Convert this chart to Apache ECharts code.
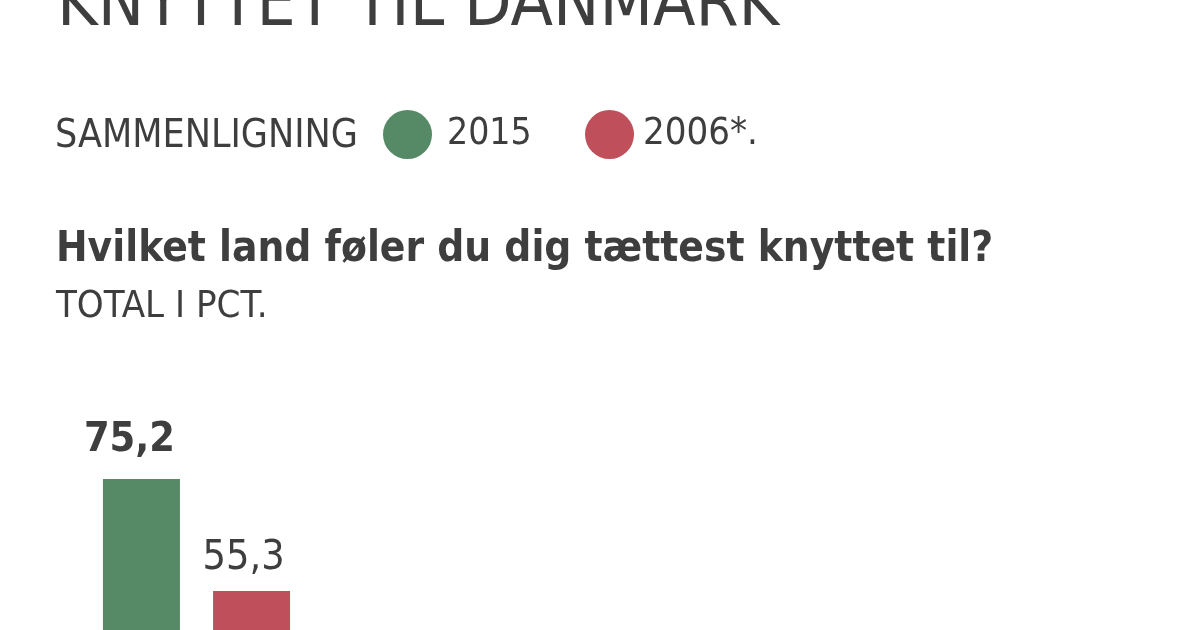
<!DOCTYPE html>
<html>
<head>
<meta charset="utf-8">
<style>
  html, body { margin: 0; padding: 0; background: #ffffff; }
  #chart { width: 1200px; height: 630px; }
</style>
<script src="https://cdn.jsdelivr.net/npm/echarts@6/dist/echarts.min.js"></script>
</head>
<body>
<div id="chart"></div>
<script>
const categories = ['Danmark'];
const series2015 = [75.2];
const series2006 = [55.3];
const seriesNames = ['2015', '2006*.'];
const titleText = 'KNYTTET TIL DANMARK';
const legendLead = 'SAMMENLIGNING';
const question = 'Hvilket land føler du dig tættest knyttet til?';
const unitText = 'TOTAL I PCT.';

const FONT = '"DejaVu Sans Condensed", "Liberation Sans Narrow", sans-serif';
const TXT = '#3e3e3e';
const GREEN = '#568a66';
const RED = '#bf4f5b';

const chart = echarts.init(document.getElementById('chart'));
const fmt = p => String(p.value).replace('.', ',');

chart.setOption({
  backgroundColor: '#ffffff',
  animation: false,
  title: [
    { text: titleText, left: 52, top: -32,
      textStyle: { fontFamily: FONT, fontSize: 69, fontWeight: 'normal', color: TXT } },
    { text: legendLead, left: 50, top: 112,
      textStyle: { fontFamily: FONT, fontSize: 39, fontWeight: 'normal', color: TXT } },
    { text: question, left: 51, top: 224,
      textStyle: { fontFamily: FONT, fontSize: 42, fontWeight: 'bold', color: TXT } },
    { text: unitText, left: 51, top: 283,
      textStyle: { fontFamily: FONT, fontSize: 38, fontWeight: 'normal', color: TXT } }
  ],
  legend: [
    { data: [seriesNames[0]], left: 383, top: 110, padding: 0, icon: 'circle', itemWidth: 49, itemHeight: 49,
      itemGap: 0,
      textStyle: { fontFamily: FONT, fontSize: 37, color: TXT, padding: [0, 0, 0, 10] } },
    { data: [seriesNames[1]], left: 585, top: 110, padding: 0, icon: 'circle', itemWidth: 49, itemHeight: 49,
      itemGap: 0,
      textStyle: { fontFamily: FONT, fontSize: 38, color: TXT, padding: [0, 0, 0, 4] } }
  ],
  grid: { left: 100, width: 193, top: 339.4, bottom: 0, containLabel: false },
  xAxis: { type: 'category', data: categories, show: false },
  yAxis: { type: 'value', min: 48.37, max: 100, show: false },
  series: [
    { name: seriesNames[0], type: 'bar', data: series2015, barWidth: 77, barGap: '43%',
      itemStyle: { color: GREEN },
      label: { show: true, position: 'top', distance: 18, offset: [-12, 0], formatter: fmt,
        fontFamily: FONT, fontSize: 41, fontWeight: 'bold', color: TXT } },
    { name: seriesNames[1], type: 'bar', data: series2006, barWidth: 77,
      itemStyle: { color: RED },
      label: { show: true, position: 'top', distance: 12, offset: [-8, 0], formatter: fmt,
        fontFamily: FONT, fontSize: 41, fontWeight: 'normal', color: TXT } }
  ]
});
</script>
</body>
</html>
